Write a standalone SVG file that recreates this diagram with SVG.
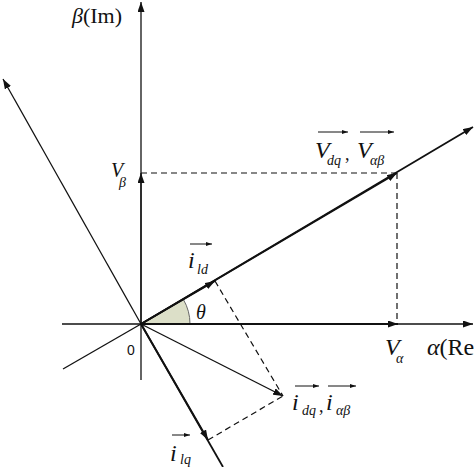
<svg xmlns="http://www.w3.org/2000/svg" width="474" height="467" viewBox="0 0 474 467">
<style>
.ax{stroke:#111;stroke-width:1.3;fill:none}
.vec{stroke:#111;stroke-width:1.8;fill:none}
.dash{stroke:#111;stroke-width:1.2;fill:none;stroke-dasharray:6,4}
.ov{stroke:#111;stroke-width:1;fill:none}
text{font-family:"Liberation Serif","Times New Roman",serif;fill:#111}
.it{font-style:italic}
.sub{font-style:italic;font-size:14px}
</style>
<defs>
<marker id="ah" markerUnits="userSpaceOnUse" markerWidth="10" markerHeight="7" refX="10" refY="3.5" orient="auto"><path d="M0,0 L10,3.5 L0,7 z" fill="#111"/></marker>
<marker id="sah" markerUnits="userSpaceOnUse" markerWidth="6" markerHeight="4" refX="6" refY="2" orient="auto"><path d="M0,0 L6,2 L0,4 z" fill="#111"/></marker>
</defs>
<g id="angle">
<path d="M141,324 L190,324 A49,49 0 0 0 183.4,299.5 Z" fill="#dcdfc8" stroke="none"/>
<path d="M190,324 A49,49 0 0 0 183.4,299.5" fill="none" stroke="#666" stroke-width="1"/>
</g>
<g id="connectors">
<line class="ax" x1="141" y1="380" x2="141" y2="2" marker-end="url(#ah)"/>
<line class="ax" x1="62" y1="324" x2="473" y2="324" marker-end="url(#ah)"/>
<line class="ax" x1="63" y1="369" x2="141" y2="324"/>
<line class="vec" x1="141" y1="324" x2="473" y2="127" marker-end="url(#ah)"/>
<line class="ax" x1="141" y1="324" x2="3" y2="79" marker-end="url(#ah)"/>
<line class="vec" x1="141" y1="324" x2="223" y2="467"/>
<line class="vec" x1="141" y1="324" x2="397" y2="173" marker-end="url(#ah)"/>
<line class="vec" x1="141" y1="324" x2="398" y2="324" marker-end="url(#ah)"/>
<line class="ax" x1="141" y1="324" x2="141" y2="173" marker-end="url(#ah)"/>
<line class="vec" x1="141" y1="324" x2="215" y2="281" marker-end="url(#ah)"/>
<line class="vec" x1="141" y1="324" x2="208" y2="440" marker-end="url(#ah)"/>
<line class="ax" x1="141" y1="324" x2="283" y2="396" marker-end="url(#ah)"/>
<line class="dash" x1="141" y1="173" x2="397" y2="173"/>
<line class="dash" x1="397" y1="173" x2="397" y2="324"/>
<line class="dash" x1="215" y1="281" x2="283" y2="396"/>
<line class="dash" x1="208" y1="440" x2="283" y2="396"/>
</g>
<g id="label-beta">
<text x="72" y="23" font-size="22"><tspan class="it">β</tspan>(Im)</text>
</g>
<g id="label-alpha">
<text x="427" y="355" font-size="24"><tspan class="it">α</tspan>(Re)</text>
</g>
<g id="label-Vbeta">
<text class="it" x="111" y="177" font-size="20">V</text>
<text class="sub" x="119" y="187">β</text>
</g>
<g id="label-Valpha">
<text class="it" x="385" y="355" font-size="24">V</text>
<text class="sub" x="396" y="363">α</text>
</g>
<g id="label-V">
<line class="ov" x1="318" y1="132" x2="348" y2="132" marker-end="url(#sah)"/>
<line class="ov" x1="360" y1="132" x2="394" y2="132" marker-end="url(#sah)"/>
<text class="it" x="315" y="158" font-size="24">V</text>
<text class="sub" x="327" y="165">dq</text>
<text x="345" y="160" font-size="18">,</text>
<text class="it" x="357" y="158" font-size="24">V</text>
<text class="sub" x="370" y="165">αβ</text>
</g>
<g id="label-i">
<line class="ov" x1="295" y1="386" x2="319" y2="386" marker-end="url(#sah)"/>
<line class="ov" x1="328" y1="386" x2="356" y2="386" marker-end="url(#sah)"/>
<text class="it" x="292" y="410" font-size="24">i</text>
<text class="sub" x="302" y="415">dq</text>
<text x="319" y="412" font-size="18">,</text>
<text class="it" x="326" y="410" font-size="24">i</text>
<text class="sub" x="336" y="415">αβ</text>
</g>
<g id="label-ild">
<line class="ov" x1="190" y1="244" x2="212" y2="244" marker-end="url(#sah)"/>
<text class="it" x="188" y="268" font-size="24">i</text>
<text class="sub" x="197" y="274">ld</text>
</g>
<g id="label-ilq">
<line class="ov" x1="172" y1="435" x2="190" y2="435" marker-end="url(#sah)"/>
<text class="it" x="170" y="461" font-size="24">i</text>
<text class="sub" x="180" y="464">lq</text>
</g>
<g id="label-theta">
<text class="it" x="196" y="319" font-size="20">θ</text>
</g>
<g id="label-origin">
<text x="127" y="355" font-size="14" style="font-family:'Liberation Sans',Arial,sans-serif">0</text>
</g>
</svg>
